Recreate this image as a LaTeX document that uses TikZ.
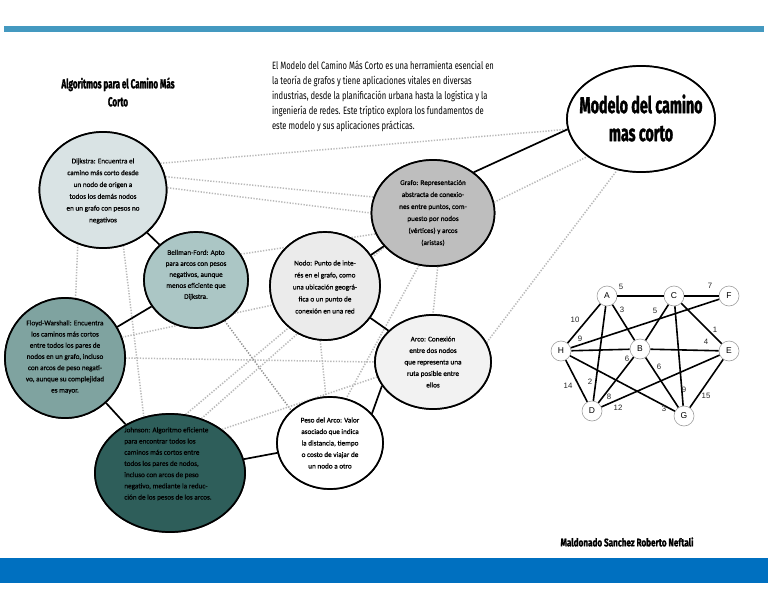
\documentclass[tikz,border=0pt]{standalone}
\usepackage{fontspec}
\setmainfont{Carlito}
\setsansfont{Liberation Sans}
\newfontfamily\bubfont[FakeBold=0.6]{Carlito}
\newfontfamily\condfont[FakeStretch=0.72]{Fira Sans}
\newfontfamily\condbold[FakeStretch=0.62, BoldFeatures={FakeBold=1.4}]{Fira Sans}
\newfontfamily\authfont[FakeStretch=0.74, BoldFeatures={FakeBold=1.2}]{Fira Sans}
\usetikzlibrary{shapes.geometric}
\definecolor{topblue}{HTML}{4499C0}
\definecolor{botblue}{HTML}{0070C0}
\definecolor{cdij}{HTML}{D9E3E4}
\definecolor{cbel}{HTML}{ABC6C5}
\definecolor{cflo}{HTML}{7FA3A0}
\definecolor{cjoh}{HTML}{2E5E5A}
\definecolor{cgra}{HTML}{BEBEBE}
\definecolor{cnod}{HTML}{EBEBEB}
\definecolor{carc}{HTML}{F2F2F2}
\tikzset{
  bub/.style={ellipse, draw=black, line width=1.7pt, inner sep=0pt},
  txt/.style={align=center, inner sep=0pt, font=\bubfont\fontsize{7.2}{11.8}\selectfont},
  conn/.style={line width=1.7pt, black},
  dots/.style={draw=gray!55, line width=1.5pt, dash pattern=on 1.3pt off 1.5pt},
  dotsdark/.style={draw=gray!85, line width=1.5pt, dash pattern=on 1.3pt off 1.5pt},
  gn/.style={circle, draw=gray!75, fill=white, line width=0.6pt, minimum size=20pt, inner sep=0pt, font=\sffamily\fontsize{8.5}{8.5}\selectfont},
  ge/.style={line width=1.6pt, black},
  el/.style={inner sep=0pt, font=\sffamily\fontsize{7.8}{8}\selectfont, text=black!85}
}
\begin{document}
\begin{tikzpicture}[x=1pt,y=-1pt]
\useasboundingbox (0,0) rectangle (768,594);
\fill[white] (0,0) rectangle (768,594);
\fill[topblue] (4,26) rectangle (764,32);
\fill[botblue] (0,558) rectangle (768,583);

% bubbles (first pass, for connector geometry)
\node[bub, fill=cdij, minimum width=127pt, minimum height=116pt] (dij) at (103,190) {};
\node[bub, fill=cbel, minimum width=104pt, minimum height=96pt] (bel) at (196,280) {};
\node[bub, fill=cflo, minimum width=120pt, minimum height=120pt] (flo) at (65,358) {};
\node[bub, fill=cjoh, minimum width=150pt, minimum height=118pt] (joh) at (170,473) {};
\node[bub, fill=cgra, minimum width=123pt, minimum height=106pt] (gra) at (433,213) {};
\node[bub, fill=cnod, minimum width=110pt, minimum height=108pt] (nod) at (325,286) {};
\node[bub, fill=carc, minimum width=116pt, minimum height=94pt] (arc) at (433,362) {};
\node[bub, fill=white, minimum width=106pt, minimum height=92pt] (pes) at (330,443) {};
\node[bub, fill=white, minimum width=148pt, minimum height=106pt] (mod) at (641,119) {};

% dotted connectors
\draw[dots] (dij.12) -- (gra.165);
\draw[dots] (dij.2) -- (gra.180);
\draw[dots] (dij.25) -- (mod.188);
\draw[dots] (dij.245) -- (flo.80);
\draw[dots] (dij.290) -- (joh.115);
\draw[dots] (bel.30) -- (gra.200);
\draw[dotsdark] (bel.305) -- (pes.140);
\draw[dots] (flo.0) -- (arc.180);
\draw[dots] (flo.20) -- (nod.200);
\draw[dots] (joh.60) -- (nod.240);
\draw[dots] (joh.40) -- (arc.195);
\draw[dots] (joh.75) -- (gra.215);
\draw[dots] (nod.265) -- (pes.95);
\draw[dots] (gra.255) -- (pes.70);
\draw[dots] (gra.275) -- (arc.90);
\draw[dots] (gra.10) -- (mod.215);
\draw[dots] (arc.20) -- (mod.245);

% solid connectors
\draw[conn] (dij) -- (bel);
\draw[conn] (bel) -- (flo);
\draw[conn] (flo) -- (joh);
\draw[conn] (joh) -- (pes);
\draw[conn] (pes.35) -- (arc.205);
\draw[conn] (nod) -- (arc);
\draw[conn] (nod) -- (gra);
\draw[conn] (gra.45) -- (mod.188);

% bubbles drawn again on top of the connectors
\node[bub, fill=cdij, minimum width=127pt, minimum height=116pt] (dij2) at (dij) {};
\node[bub, fill=cbel, minimum width=104pt, minimum height=96pt] (bel2) at (bel) {};
\node[bub, fill=cflo, minimum width=120pt, minimum height=120pt] (flo2) at (flo) {};
\node[bub, fill=cjoh, minimum width=150pt, minimum height=118pt] (joh2) at (joh) {};
\node[bub, fill=cgra, minimum width=123pt, minimum height=106pt] (gra2) at (gra) {};
\node[bub, fill=cnod, minimum width=110pt, minimum height=108pt] (nod2) at (nod) {};
\node[bub, fill=carc, minimum width=116pt, minimum height=94pt] (arc2) at (arc) {};
\node[bub, fill=white, minimum width=106pt, minimum height=92pt] (pes2) at (pes) {};
\node[bub, fill=white, minimum width=148pt, minimum height=106pt] (mod2) at (mod) {};

% bubble texts
\node[txt] (dijt) at (103,191) {Dijkstra: Encuentra el\\camino más corto desde\\un nodo de origen a\\todos los demás nodos\\en un grafo con pesos no\\negativos};
\node[txt, font=\bubfont\fontsize{7.2}{11}\selectfont] (belt) at (196,275) {Bellman-Ford: Apto\\para arcos con pesos\\negativos, aunque\\menos eficiente que\\Dijkstra.};
\node[txt, font=\bubfont\fontsize{7.2}{11.2}\selectfont] (flot) at (65,357) {Floyd-Warshall: Encuentra\\los caminos más cortos\\entre todos los pares de\\nodos en un grafo, incluso\\con arcos de peso negati-\\vo, aunque su complejidad\\es mayor.};
\node[txt, align=left, font=\bubfont\fontsize{7.2}{11.2}\selectfont] (joht) at (168,464) {Johnson: Algoritmo eficiente\\para encontrar todos los\\caminos más cortos entre\\todos los pares de nodos,\\incluso con arcos de peso\\negativo, mediante la reduc-\\ción de los pesos de los arcos.};
\node[txt, font=\bubfont\fontsize{7.2}{12}\selectfont] (grat) at (433,213) {Grafo: Representación\\abstracta de conexio-\\nes entre puntos, com-\\puesto por nodos\\(vértices) y arcos\\(aristas)};
\node[txt, font=\bubfont\fontsize{7.2}{12}\selectfont] (nodt) at (325,287) {Nodo: Punto de inte-\\rés en el grafo, como\\una ubicación geográ-\\fica o un punto de\\conexión en una red};
\node[txt, font=\bubfont\fontsize{7.2}{11.5}\selectfont] (arct) at (433,362) {Arco: Conexión\\entre dos nodos\\que representa una\\ruta posible entre\\ellos};
\node[txt, font=\bubfont\fontsize{7.2}{11.5}\selectfont] (pest) at (330,443) {Peso del Arco: Valor\\asociado que indica\\la distancia, tiempo\\o costo de viajar de\\un nodo a otro};
\node[align=center, inner sep=0pt, font=\condbold\bfseries\fontsize{23}{28}\selectfont] (modt) at (641,118) {Modelo del camino\\mas corto};

% headings
\node[align=center, inner sep=0pt, font=\condbold\bfseries\fontsize{13}{18}\selectfont] (title) at (118,92) {Algoritmos para el Camino Más\\Corto};
\node[align=left, inner sep=0pt, font=\condfont\fontsize{10.6}{15}\selectfont] (intro) at (383,96) {El Modelo del Camino Más Corto es una herramienta esencial en\\la teoría de grafos y tiene aplicaciones vitales en diversas\\industrias, desde la planificación urbana hasta la logística y la\\ingeniería de redes. Este tríptico explora los fundamentos de\\este modelo y sus aplicaciones prácticas.};
\node[inner sep=0pt, font=\authfont\bfseries\fontsize{11}{11}\selectfont] (author) at (627,542) {Maldonado Sanchez Roberto Neftali};

% small graph
\node[gn] (A) at (607,296) {A};
\node[gn] (C) at (674,296) {C};
\node[gn] (F) at (729,296) {F};
\node[gn] (H) at (561,351) {H};
\node[gn] (B) at (640,349) {B};
\node[gn] (E) at (729,351) {E};
\node[gn] (D) at (592,411) {D};
\node[gn] (G) at (684,416) {G};
\begin{scope}[ge]
\draw (A) -- (C);
\draw (C) -- (F);
\draw (A) -- (H);
\draw (A) -- (B);
\draw (A) -- (D);
\draw (C) -- (B);
\draw (C) -- (G);
\draw (C) -- (E);
\draw (F) -- (H);
\draw (H) -- (B);
\draw (B) -- (E);
\draw (H) -- (D);
\draw (H) -- (G);
\draw (B) -- (D);
\draw (B) -- (G);
\draw (E) -- (D);
\draw (E) -- (G);
\end{scope}
\node[el] (l1) at (621,287) {5};
\node[el] (l2) at (710,286) {7};
\node[el] (l3) at (575,320) {10};
\node[el] (l4) at (622,310) {3};
\node[el] (l5) at (655,311) {5};
\node[el] (l6) at (580,339) {9};
\node[el] (l7) at (715,330) {1};
\node[el] (l8) at (706,342) {4};
\node[el] (l9) at (627,359) {6};
\node[el] (l10) at (659,367) {6};
\node[el] (l11) at (568,386) {14};
\node[el] (l12) at (590,382) {2};
\node[el] (l13) at (609,397) {8};
\node[el] (l14) at (618,408) {12};
\node[el] (l15) at (664,409) {3};
\node[el] (l16) at (684,390) {9};
\node[el] (l17) at (706,396) {15};
\end{tikzpicture}
\end{document}
